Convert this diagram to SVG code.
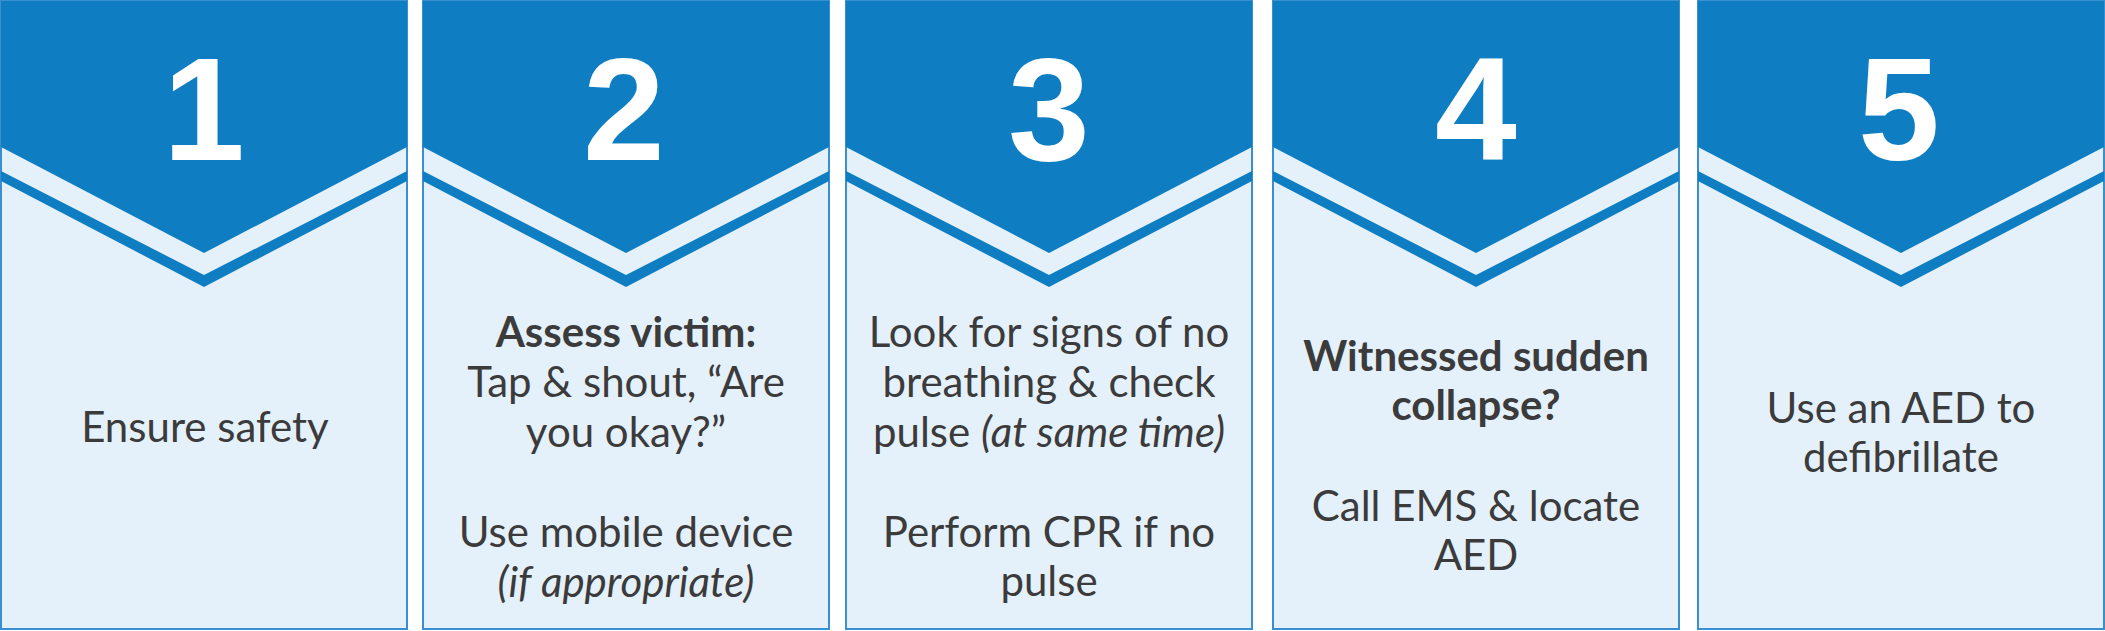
<svg xmlns="http://www.w3.org/2000/svg" width="2105" height="631" viewBox="0 0 2105 631">
<style>
.card{fill:#e4f1fa;stroke:#3a8fd0;stroke-width:2}
.head{fill:#0f7dc2}
.num{font-family:"Liberation Sans",Arial,sans-serif;font-weight:bold;font-size:147px;fill:#ffffff;text-anchor:middle}
.t{font-family:Lato,"Open Sans",sans-serif;font-size:42px;fill:#3c3b3c;text-anchor:middle}
.b{font-weight:bold}
.i{font-style:italic}
</style>
<rect width="2105" height="631" fill="#ffffff"/>
<g id="step1">
<rect class="card" x="1" y="1" width="406" height="628"/>
<polygon class="head" points="1,1 407,1 407,147 204,253 1,147"/>
<polygon class="head" points="1,171 204,275 407,171 407,181 204,287 1,181"/>
<text class="num" x="204" y="160">1</text>
<text class="t" x="205" y="442">Ensure safety</text>
</g>
<g id="step2">
<rect class="card" x="423" y="1" width="406" height="628"/>
<polygon class="head" points="423,1 829,1 829,147 626,253 423,147"/>
<polygon class="head" points="423,171 626,275 829,171 829,181 626,287 423,181"/>
<text class="num" x="624" y="160">2</text>
<text class="t" x="626" y="347"><tspan class="b">Assess victim:</tspan></text>
<text class="t" x="626" y="397">Tap &amp; shout, “Are</text>
<text class="t" x="626" y="447">you okay?”</text>
<text class="t" x="626" y="547">Use mobile device</text>
<text class="t" x="626" y="597"><tspan class="i">(if appropriate)</tspan></text>
</g>
<g id="step3">
<rect class="card" x="846" y="1" width="406" height="628"/>
<polygon class="head" points="846,1 1252,1 1252,147 1049,253 846,147"/>
<polygon class="head" points="846,171 1049,275 1252,171 1252,181 1049,287 846,181"/>
<text class="num" x="1049" y="160">3</text>
<text class="t" x="1049" y="347">Look for signs of no</text>
<text class="t" x="1049" y="397">breathing &amp; check</text>
<text class="t" x="1049" y="447">pulse <tspan class="i">(at same time)</tspan></text>
<text class="t" x="1049" y="547">Perform CPR if no</text>
<text class="t" x="1049" y="596">pulse</text>
</g>
<g id="step4">
<rect class="card" x="1273" y="1" width="406" height="628"/>
<polygon class="head" points="1273,1 1679,1 1679,147 1476,253 1273,147"/>
<polygon class="head" points="1273,171 1476,275 1679,171 1679,181 1476,287 1273,181"/>
<text class="num" x="1476" y="160">4</text>
<text class="t b" x="1476" y="371">Witnessed sudden</text>
<text class="t b" x="1476" y="420">collapse?</text>
<text class="t" x="1476" y="521">Call EMS &amp; locate</text>
<text class="t" x="1476" y="570">AED</text>
</g>
<g id="step5">
<rect class="card" x="1698" y="1" width="406" height="628"/>
<polygon class="head" points="1698,1 2104,1 2104,147 1901,253 1698,147"/>
<polygon class="head" points="1698,171 1901,275 2104,171 2104,181 1901,287 1698,181"/>
<text class="num" x="1899" y="160">5</text>
<text class="t" x="1901" y="423">Use an AED to</text>
<text class="t" x="1901" y="472">defibrillate</text>
</g>
<g id="connectors"/>
</svg>
